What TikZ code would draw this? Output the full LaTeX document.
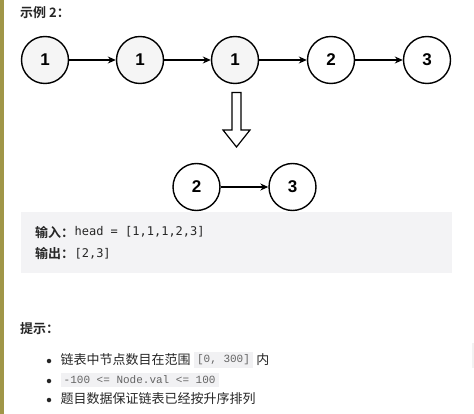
\documentclass[tikz,border=0pt]{standalone}
\usepackage{fontspec}
\setmainfont{Liberation Sans}
\newfontfamily\cjk{Noto Sans CJK SC}
\newfontfamily\cjkbold{Noto Sans CJK SC Bold}
\newfontfamily\codefont{DejaVu Sans Mono}
\newfontfamily\inlinefont{Liberation Mono}
\usetikzlibrary{arrows.meta}
\definecolor{barcol}{RGB}{160,150,72}
\definecolor{nodegray}{RGB}{245,245,245}
\definecolor{boxgray}{RGB}{243,243,245}
\definecolor{inlinebg}{RGB}{241,241,243}
\definecolor{textcol}{RGB}{38,38,38}
\definecolor{codegray}{RGB}{100,100,100}
\begin{document}
\begin{tikzpicture}[x=1pt,y=-1pt,
  lnode/.style={circle,draw=black,line width=1.4pt,minimum size=47pt,inner sep=0pt,
    font=\fontsize{17}{17}\selectfont\bfseries},
  grayfill/.style={fill=nodegray},
  whitefill/.style={fill=white},
  link/.style={-{Stealth[length=8pt,width=7pt]},line width=1.2pt},
  txt/.style={anchor=west,inner sep=0pt,text=textcol},
  heading/.style={txt,font=\cjkbold\fontsize{13}{13}\selectfont},
  cjktext/.style={txt,font=\cjk\fontsize{13}{13}\selectfont},
  inlinecode/.style={anchor=west,inner xsep=3pt,inner ysep=3pt,fill=inlinebg,
    text=codegray,font=\inlinefont\fontsize{11}{11}\selectfont},
  bulletdot/.style={circle,fill=textcol,inner sep=0pt,minimum size=4.5pt}]
\useasboundingbox (0,0) rectangle (474,414);
\fill[white] (0,0) rectangle (474,414);
% left bar
\fill[barcol] (0,0) rectangle (4,414);
% faint right mark
\fill[black!5] (471.5,343) rectangle (474,368);

\node[heading] (title) at (20,13) {示例 2：};

% first list
\node[lnode,grayfill] (a1) at (45,60) {1};
\node[lnode,grayfill] (a2) at (140,60) {1};
\node[lnode,grayfill] (a3) at (235,60) {1};
\node[lnode,whitefill] (a4) at (331,60) {2};
\node[lnode,whitefill] (a5) at (427,60) {3};
\draw[link] (a1) -- (a2);
\draw[link] (a2) -- (a3);
\draw[link] (a3) -- (a4);
\draw[link] (a4) -- (a5);

% hollow arrow
\draw[line width=1.2pt,fill=white,line join=miter]
  (232,92.5) -- (241,92.5) -- (241,130) -- (250,130) -- (236.5,147)
  -- (223,130) -- (232,130) -- cycle;

% code box
\fill[boxgray] (21,212) rectangle (452,273);

% result list
\node[lnode,whitefill] (b1) at (196.5,187) {2};
\node[lnode,whitefill] (b2) at (292.5,187) {3};
\draw[link] (b1) -- (b2);

\node[txt,font=\cjkbold\fontsize{13}{13}\selectfont] (in1) at (35,232) {输入：};
\node[txt,font=\codefont\fontsize{12}{12}\selectfont] (in2) at (in1.east) {head = [1,1,1,2,3]};
\node[txt,font=\cjkbold\fontsize{13}{13}\selectfont] (out1) at (35,254) {输出：};
\node[txt,font=\codefont\fontsize{12}{12}\selectfont] (out2) at (out1.east) {[2,3]};

\node[heading] (hint) at (20,329) {提示：};

% bullets
\node[bulletdot] (d1) at (49,361) {};
\node[bulletdot] (d2) at (49,381) {};
\node[bulletdot] (d3) at (49,400) {};

\node[cjktext] (l1a) at (60.5,360) {链表中节点数目在范围};
\node[inlinecode] (l1b) at ([xshift=3pt]l1a.east) {[0, 300]};
\node[cjktext] (l1c) at ([xshift=3pt]l1b.east) {内};

\node[inlinecode] (l2) at (60.5,380) {-100 <= Node.val <= 100};

\node[cjktext] (l3) at (60.5,399) {题目数据保证链表已经按升序排列};
\end{tikzpicture}
\end{document}
